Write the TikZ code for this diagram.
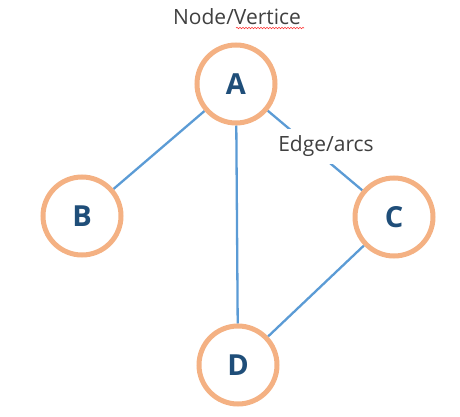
\documentclass[tikz,border=0pt]{standalone}
\usepackage{fontspec}
\setmainfont{Open Sans}
\usetikzlibrary{decorations.pathmorphing,backgrounds}
\definecolor{ringc}{HTML}{F4B183}
\definecolor{edgec}{HTML}{5B9BD5}
\definecolor{letterc}{HTML}{1F4E79}
\definecolor{labelc}{HTML}{404040}
\begin{document}
\begin{tikzpicture}[x=1pt,y=-1pt,
  vertex/.style={circle,draw=ringc,line width=5pt,fill=white,minimum size=78pt,inner sep=0pt,
    font=\fontsize{29}{32}\selectfont\bfseries,text=letterc},
  edgeline/.style={draw=edgec,line width=2.3pt},
  tag/.style={font=\fontsize{21}{24}\selectfont,text=labelc}]
\useasboundingbox (0,0) rectangle (460,417);
\node[vertex] (A) at (236,84) {A};
\node[vertex] (B) at (82,216) {B};
\node[vertex] (C) at (394,217) {C};
\node[vertex] (D) at (238,365) {D};
\begin{scope}[on background layer]
\draw[edgeline] (A) -- (B);
\draw[edgeline] (A) -- (D);
\draw[edgeline] (A) -- (C);
\draw[edgeline] (C) -- (D);
\end{scope}
\node[tag,fill=white,inner xsep=2pt,inner ysep=7pt] (E) at (326,146) {Edge/arcs};
\node[tag] (N) at (237,17) {Node/Vertice};
\draw[red!80,line width=0.6pt,decorate,decoration={snake,segment length=3pt,amplitude=0.7pt}] (236,28) -- (304,28);
\end{tikzpicture}
\end{document}
